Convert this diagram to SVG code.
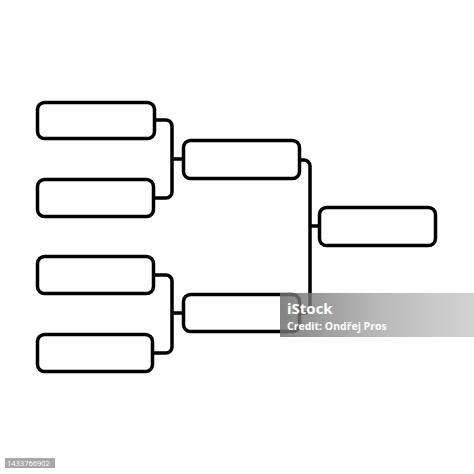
<svg xmlns="http://www.w3.org/2000/svg" width="474" height="474" viewBox="0 0 474 474">
<style>
.box{fill:#fff;stroke:#000;stroke-width:3.5}
.con{fill:none;stroke:#000;stroke-width:3.5;stroke-linecap:butt}
.wm1{font-family:"Open Sans","Liberation Sans",sans-serif;font-weight:bold;fill:#fff}
</style>
<defs>
<linearGradient id="wg" x1="0" y1="0" x2="1" y2="0">
<stop offset="0" stop-color="#6e6e6e" stop-opacity="0.85"/>
<stop offset="0.5" stop-color="#9a9a9a" stop-opacity="0.7"/>
<stop offset="1" stop-color="#b5b5b5" stop-opacity="0.6"/>
</linearGradient>
</defs>
<rect width="474" height="474" fill="#fff"/>
<g id="connectors">
<path class="con" d="M155,120 H166 a6,6 0 0 1 6,6 V192 a6,6 0 0 1 -6,6 H154"/>
<path class="con" d="M172,159 H183"/>
<path class="con" d="M155,275 H166 a6,6 0 0 1 6,6 V347 a6,6 0 0 1 -6,6 H154"/>
<path class="con" d="M172,313 H183"/>
<path class="con" d="M300,160 H304 a6,6 0 0 1 6,6 V307 a6,6 0 0 1 -6,6 H300"/>
<path class="con" d="M310,226 H319"/>
</g>
<g id="r1a"><rect class="box" x="37.5" y="102.5" width="117" height="36" rx="7"/></g>
<g id="r1b"><rect class="box" x="37.5" y="179.5" width="116" height="37" rx="7"/></g>
<g id="r1c"><rect class="box" x="37.5" y="256.5" width="116" height="37" rx="7"/></g>
<g id="r1d"><rect class="box" x="37.5" y="334.5" width="115" height="37" rx="7"/></g>
<g id="r2a"><rect class="box" x="183.5" y="140.5" width="116" height="38" rx="7"/></g>
<g id="r2b"><rect class="box" x="183.5" y="294.5" width="116" height="37" rx="7"/></g>
<g id="final"><rect class="box" x="319.5" y="207.5" width="116" height="38" rx="7"/></g>
<g id="watermark">
<rect x="280" y="293" width="194" height="44" fill="url(#wg)"/>
<text class="wm1" x="287" y="314" font-size="15">iStock</text>
<text class="wm1" x="287" y="330" font-size="10.5">Credit: Ondřej Pros</text>
<rect x="5" y="458" width="50" height="10" fill="#a8a8a8"/>
<text x="7" y="466" font-size="7.5" font-family="Open Sans, Liberation Sans, sans-serif" fill="#fff">1433766902</text>
</g>
</svg>
